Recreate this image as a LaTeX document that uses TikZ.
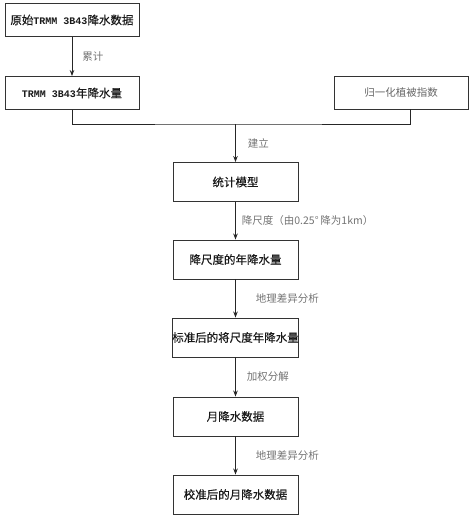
\documentclass[tikz,border=0pt]{standalone}
\usepackage{fontspec}
\usepackage{tikz}
\usetikzlibrary{arrows.meta}
\setmainfont{Noto Sans CJK SC}
\setmonofont{Liberation Mono}
\newfontfamily\boxfont{Noto Sans CJK SC}[FakeBold=0.4]
\newcommand\trmm{{\ttfamily\bfseries\fontsize{10pt}{12pt}\selectfont TRMM 3B43}}

\tikzset{
    stepbox/.style={draw=black!80, line width=0.9pt, inner sep=0pt,
        minimum width=125pt, minimum height=39pt,
        font=\boxfont\fontsize{11.5pt}{12pt}\selectfont, text=black!90},
    topbox/.style={stepbox, minimum width=134pt, minimum height=33pt},
    arr/.style={-{Stealth[length=6pt, width=4.5pt]}, line width=0.8pt, draw=black!85},
    lbl/.style={font=\fontsize{10.5pt}{12pt}\selectfont, text=black!55, inner sep=0pt}
}

\begin{document}
\begin{tikzpicture}[x=1pt, y=-1pt]
    \useasboundingbox (0,0) rectangle (474,520);

    \node[topbox] (raw) at (72,20) {原始\trmm 降水数据};
    \node[topbox] (annual) at (72,93) {\trmm 年降水量};
    \node[topbox, font=\rmfamily\fontsize{10.5pt}{12pt}\selectfont, text=black!60] (ndvi) at (401,92.5) {归一化植被指数};

    \node[stepbox] (model) at (235.5,182) {统计模型};
    \node[stepbox] (down) at (235.5,259.5) {降尺度的年降水量};
    \node[stepbox] (calib) at (235.5,337.5) {标准后的将尺度年降水量};
    \node[stepbox] (month) at (235.5,416.5) {月降水数据};
    \node[stepbox] (final) at (235.5,494.5) {校准后的月降水数据};

    \coordinate (join) at (235.5,124);

    % arrows
    \draw[arr] (raw) -- (annual) node[lbl, midway, right=10pt] (sum) {累计};
    \draw[line width=0.8pt, draw=black!85] (annual.south) |- (join) -| ([xshift=9pt]ndvi.south);
    \draw[arr] (join) -- (model) node[lbl, midway, right=12pt] (build) {建立};
    \draw[arr] (model) -- (down) node[lbl, midway, right=6pt] (scale) {降尺度（由0.25°\,降为1km）};
    \draw[arr] (down) -- (calib) node[lbl, midway, right=20pt] (geo1) {地理差异分析};
    \draw[arr] (calib) -- (month) node[lbl, midway, right=11pt] (weight) {加权分解};
    \draw[arr] (month) -- (final) node[lbl, midway, right=20pt] (geo2) {地理差异分析};
\end{tikzpicture}
\end{document}
